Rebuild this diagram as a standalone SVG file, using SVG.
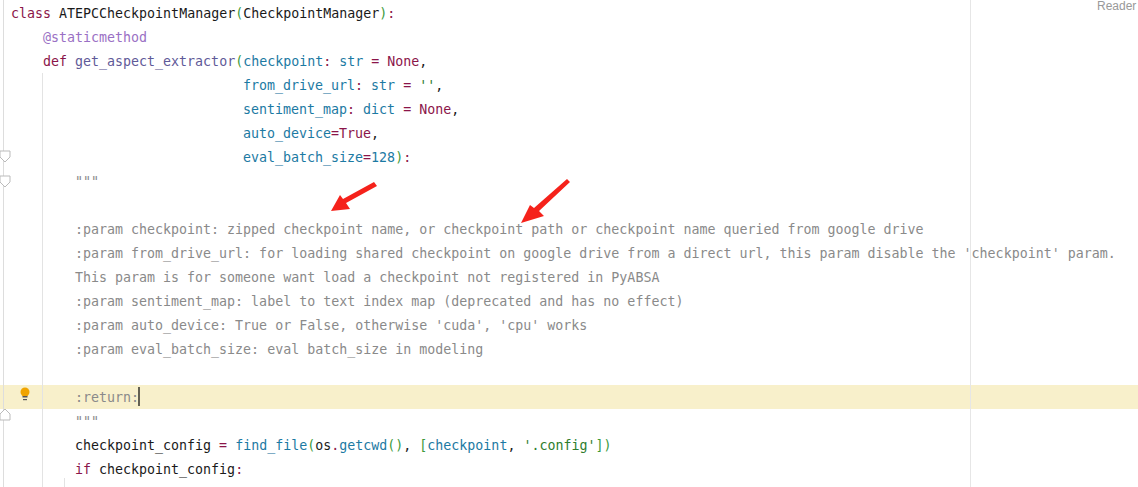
<svg xmlns="http://www.w3.org/2000/svg" width="1138" height="487" viewBox="0 0 1138 487">
<style>
text{font-family:"DejaVu Sans Mono","Liberation Mono",monospace;font-size:13.3px;white-space:pre}
.k{fill:#8b1549}.n{fill:#1a1a1a}.d{fill:#9a70c4}.f{fill:#5f5a98}.p{fill:#1c7aa3}.g{fill:#3c9a3c}.c{fill:#8a8a8a}.s{fill:#2e7d2e}
.fold{fill:#fff;stroke:#bbb;stroke-width:1}
</style>
<rect width="1138" height="487" fill="#fff"/>
<rect x="0" y="385" width="1138" height="24" fill="#f8f0cb"/>
<line x1="3.5" y1="0" x2="3.5" y2="487" stroke="#ddd"/>
<line x1="970.5" y1="0" x2="970.5" y2="487" stroke="#e6e6e6"/>
<line x1="42.5" y1="73" x2="42.5" y2="487" stroke="#e3e3e3"/>
<line x1="64.5" y1="478" x2="64.5" y2="487" stroke="#e3e3e3"/>
<path class="fold" d="M0,151 h10 v6 l-5,5 l-5,-5z"/>
<path class="fold" d="M0,176 h10 v6 l-5,5 l-5,-5z"/>
<path class="fold" d="M0,420 h10 v-6 l-5,-5 l-5,5z"/>
<text x="1097" y="10" style="font-family:'Liberation Sans',sans-serif;font-size:12px" fill="#999">Reader</text>
<g id="code" transform="translate(0,1)">
<text x="11" y="17"><tspan class="k">class </tspan><tspan class="n">ATEPCCheckpointManager</tspan><tspan class="g">(</tspan><tspan class="n">CheckpointManager</tspan><tspan class="g">)</tspan><tspan class="k">:</tspan></text>
<text x="43" y="41" class="d">@staticmethod</text>
<text x="43" y="65"><tspan class="k">def </tspan><tspan class="f">get_aspect_extractor</tspan><tspan class="g">(</tspan><tspan class="p">checkpoint</tspan><tspan class="k">: </tspan><tspan class="p">str</tspan><tspan class="k"> = None</tspan><tspan class="n">,</tspan></text>
<text x="243" y="89"><tspan class="p">from_drive_url</tspan><tspan class="k">: </tspan><tspan class="p">str</tspan><tspan class="k"> = </tspan><tspan class="s">''</tspan><tspan class="n">,</tspan></text>
<text x="243" y="113"><tspan class="p">sentiment_map</tspan><tspan class="k">: </tspan><tspan class="p">dict</tspan><tspan class="k"> = None</tspan><tspan class="n">,</tspan></text>
<text x="243" y="137"><tspan class="p">auto_device</tspan><tspan class="k">=True</tspan><tspan class="n">,</tspan></text>
<text x="243" y="161"><tspan class="p">eval_batch_size</tspan><tspan class="k">=</tspan><tspan class="p">128</tspan><tspan class="g">)</tspan><tspan class="k">:</tspan></text>
<text x="75" y="185" class="c">"""</text>
<text x="75" y="233" class="c">:param checkpoint: zipped checkpoint name, or checkpoint path or checkpoint name queried from google drive</text>
<text x="75" y="257" class="c">:param from_drive_url: for loading shared checkpoint on google drive from a direct url, this param disable the 'checkpoint' param.</text>
<text x="75" y="281" class="c">This param is for someone want load a checkpoint not registered in PyABSA</text>
<text x="75" y="305" class="c">:param sentiment_map: label to text index map (deprecated and has no effect)</text>
<text x="75" y="329" class="c">:param auto_device: True or False, otherwise 'cuda', 'cpu' works</text>
<text x="75" y="353" class="c">:param eval_batch_size: eval batch_size in modeling</text>
<text x="75" y="401" class="c">:return:</text>
<text x="75" y="425" class="c">"""</text>
<text x="75" y="449"><tspan class="n">checkpoint_config </tspan><tspan class="k">= </tspan><tspan class="p">find_file</tspan><tspan class="g">(</tspan><tspan class="n">os</tspan><tspan class="k">.</tspan><tspan class="p">getcwd</tspan><tspan class="g">()</tspan><tspan class="n">, </tspan><tspan class="g">[</tspan><tspan class="p">checkpoint</tspan><tspan class="n">, </tspan><tspan class="s">'.config'</tspan><tspan class="g">]</tspan><tspan class="g">)</tspan></text>
<text x="75" y="473"><tspan class="k">if </tspan><tspan class="n">checkpoint_config</tspan><tspan class="k">:</tspan></text>
</g>
<line x1="139" y1="387" x2="139" y2="406" stroke="#000" stroke-width="1.2"/>
<g id="bulb">
<circle cx="25" cy="392" r="4.5" fill="#f0a400"/>
<rect x="22.5" y="396" width="5" height="1.5" fill="#555"/><rect x="23" y="399" width="4" height="1.2" fill="#555"/>
</g>
<g id="arrows" fill="#f5221b">
<polygon points="374,182 377,186 346,203 350,209 331,211 340,195 343,199"/>
<polygon points="567,179 570,182 539,211 544,216 521,223 530,205 534,208"/>
</g>
</svg>
